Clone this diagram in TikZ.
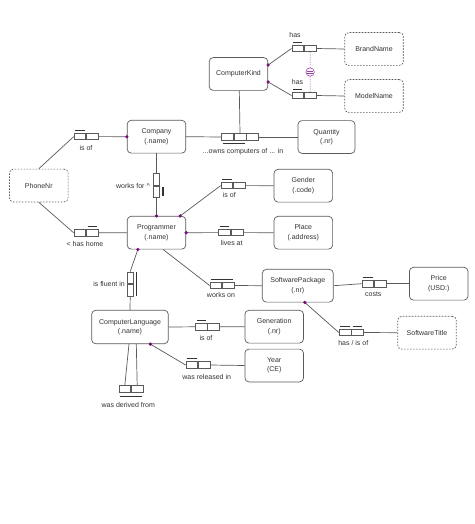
\documentclass[tikz,border=0pt]{standalone}
\usepackage{fontspec}
\setmainfont{Liberation Sans}
\usetikzlibrary{calc}
\definecolor{linecol}{HTML}{5A5A5A}
\definecolor{txtcol}{HTML}{333333}
\definecolor{dotcol}{HTML}{7A0A7A}
\definecolor{conscol}{HTML}{A040B0}
\begin{document}
\begin{tikzpicture}[x=1pt,y=-1pt, font=\fontsize{7}{9.3}\selectfont,
  entity/.style={draw=linecol, line width=0.7pt, rounded corners=4pt, minimum width=58.6pt, minimum height=32.8pt, align=center, inner sep=1pt, text=txtcol},
  valtype/.style={entity, dash pattern=on 1.6pt off 1.4pt},
  role/.style={draw=linecol, line width=0.7pt, minimum width=11.7pt, minimum height=6.4pt, inner sep=0pt},
  vrole/.style={role, minimum width=6.4pt, minimum height=11.7pt},
  conn/.style={draw=linecol, line width=0.7pt},
  ubar/.style={draw=txtcol, line width=1.1pt},
  lbl/.style={inner sep=0pt, text=txtcol},
  cons/.style={draw=conscol, line width=0.6pt, dash pattern=on 1.2pt off 1.2pt}]
\useasboundingbox (0,0) rectangle (474,524);
\fill[white] (0,0) rectangle (474,524);

% entity and value types
\node[entity] (ck) at (238.5,74) {ComputerKind};
\node[valtype] (brand) at (374,49) {BrandName};
\node[valtype] (model) at (374,96) {ModelName};
\node[entity] (comp) at (156.5,136.7) {Company\\(.name)};
\node[entity, minimum width=57pt] (qty) at (326.5,137) {Quantity\\(.nr)};
\node[valtype] (phone) at (38.8,185.5) {PhoneNr};
\node[entity] (prog) at (156.5,232.7) {Programmer\\(.name)};
\node[entity] (gender) at (303.3,185.7) {Gender\\(.code)};
\node[entity] (place) at (303.3,232.7) {Place\\(.address)};
\node[entity, minimum width=76.6pt, minimum height=33.5pt] (cl) at (130,327) {ComputerLanguage\\(.name)};
\node[entity, minimum width=71pt] (sp) at (297.8,285.7) {SoftwarePackage\\(.nr)};
\node[entity] (price) at (438.7,283.7) {Price\\(USD:)};
\node[valtype] (stitle) at (427,332.7) {SoftwareTitle};
\node[entity] (gen) at (274.2,326.7) {Generation\\(.nr)};
\node[entity] (year) at (274.2,365.5) {Year\\(CE)};

% fact types (role cells)
\node[role] (hb1) at (297.7,48.5) {};
\node[role, anchor=west] (hb2) at (hb1.east) {};
\node[role] (hm1) at (297.7,95.5) {};
\node[role, anchor=west] (hm2) at (hm1.east) {};
\node[role] (t1) at (227.6,137) {};
\node[role, anchor=west] (t2) at (t1.east) {};
\node[role, anchor=west] (t3) at (t2.east) {};
\node[role] (ip1) at (79.9,136.6) {};
\node[role, anchor=west] (ip2) at (ip1.east) {};
\node[vrole] (wf1) at (156.5,179.3) {};
\node[vrole, anchor=north] (wf2) at (wf1.south) {};
\node[role] (hh1) at (79.9,232.8) {};
\node[role, anchor=west] (hh2) at (hh1.east) {};
\node[role] (ig1) at (226.9,185.6) {};
\node[role, anchor=west] (ig2) at (ig1.east) {};
\node[role] (la1) at (224.6,232.6) {};
\node[role, anchor=west] (la2) at (la1.east) {};
\node[vrole] (fl1) at (130.2,277.8) {};
\node[vrole, anchor=north] (fl2) at (fl1.south) {};
\node[role] (wo1) at (215.8,285.5) {};
\node[role, anchor=west] (wo2) at (wo1.east) {};
\node[role] (co1) at (367.9,283.7) {};
\node[role, anchor=west] (co2) at (co1.east) {};
\node[role] (hi1) at (345,332.5) {};
\node[role, anchor=west] (hi2) at (hi1.east) {};
\node[role] (ie1) at (201.2,326.8) {};
\node[role, anchor=west] (ie2) at (ie1.east) {};
\node[role] (rl1) at (191.8,365) {};
\node[role, anchor=west] (rl2) at (rl1.east) {};
\node[role] (dv1) at (124.8,389) {};
\node[role, anchor=west] (dv2) at (dv1.east) {};

% attachment points
\coordinate (ckd1) at ($(ck.east)+(0,-9)$);
\coordinate (ckd2) at ($(ck.east)+(0,8)$);
\coordinate (ckS) at ($(ck.south)+(0.8,0)$);
\coordinate (progTR) at ($(prog.north east)+(-6,0)$);
\coordinate (progBL) at ($(prog.south west)+(11,0)$);
\coordinate (progB2) at ($(prog.south west)+(36.2,0)$);
\coordinate (spd) at ($(sp.south)+(7,0)$);
\coordinate (cld) at ($(cl.south east)+(-18.3,0)$);
\coordinate (cld1) at ($(cl.south)+(-1,0)$);
\coordinate (cld2) at ($(cl.south)+(6.3,0)$);

% connectors
\draw[conn] (ckd1) -- (hb1.west);
\draw[conn] (hb2.east) -- (brand.west);
\draw[conn] (ckd2) -- (hm1.west);
\draw[conn] (hm2.east) -- (model.west);
\draw[conn] (ckS) -- (t2.north);
\draw[conn] (comp.east) -- (t1.west);
\draw[conn] (t3.east) -- (qty.west);
\draw[conn] (phone.north) -- (ip1.west);
\draw[conn] (ip2.east) -- (comp.west);
\draw[conn] (comp.south) -- (wf1.north);
\draw[conn] (wf2.south) -- (prog.north);
\draw[conn] (phone.south) -- (hh1.west);
\draw[conn] (hh2.east) -- (prog.west);
\draw[conn] (progTR) -- (ig1.west);
\draw[conn] (ig2.east) -- (gender.west);
\draw[conn] (prog.east) -- (la1.west);
\draw[conn] (la2.east) -- (place.west);
\draw[conn] (progBL) -- (fl1.north);
\draw[conn] (fl2.south) -- (cl.north);
\draw[conn] (progB2) -- (wo1.west);
\draw[conn] (wo2.east) -- (sp.west);
\draw[conn] (sp.east) -- (co1.west);
\draw[conn] (co2.east) -- (price.west);
\draw[conn] (spd) -- (hi1.west);
\draw[conn] (hi2.east) -- (stitle.west);
\draw[conn] (cl.east) -- (ie1.west);
\draw[conn] (ie2.east) -- (gen.west);
\draw[conn] (cld) -- (rl1.west);
\draw[conn] (rl2.east) -- (year.west);
\draw[conn] (cld1) -- (dv1.north);
\draw[conn] (cld2) -- (dv2.north);

% uniqueness bars
\draw[ubar] ($(hb1.north west)+(1.5,-2.7)$) -- ($(hb1.north east)+(-1.5,-2.7)$);
\draw[ubar] ($(hm1.north west)+(1.5,-2.7)$) -- ($(hm1.north east)+(-1.5,-2.7)$);
\draw[ubar] ($(t1.south west)+(1.5,2.5)$) -- ($(t2.south east)+(-1.5,2.5)$);
\draw[ubar] ($(ip1.north west)+(1.5,-2.7)$) -- ($(ip1.north east)+(-1.5,-2.7)$);
\draw[ubar] ($(wf2.north east)+(2.9,1.5)$) -- ($(wf2.south east)+(2.9,-1.5)$);
\draw[ubar] ($(hh2.north west)+(1.5,-2.7)$) -- ($(hh2.north east)+(-1.5,-2.7)$);
\draw[ubar] ($(ig1.north west)+(1.5,-2.7)$) -- ($(ig1.north east)+(-1.5,-2.7)$);
\draw[ubar] ($(la1.north west)+(1.5,-2.7)$) -- ($(la1.north east)+(-1.5,-2.7)$);
\draw[ubar] ($(fl1.north east)+(2.6,0.5)$) -- ($(fl2.south east)+(2.6,-0.5)$);
\draw[ubar] ($(wo1.north west)+(1,-2.7)$) -- ($(wo2.north east)+(-1,-2.7)$);
\draw[ubar] ($(co1.north west)+(1.5,-2.7)$) -- ($(co1.north east)+(-1.5,-2.7)$);
\draw[ubar] ($(hi1.north west)+(1.5,-2.7)$) -- ($(hi1.north east)+(-1.5,-2.7)$);
\draw[ubar] ($(hi2.north west)+(1.5,-2.7)$) -- ($(hi2.north east)+(-1.5,-2.7)$);
\draw[ubar] ($(ie1.north west)+(1.5,-2.7)$) -- ($(ie1.north east)+(-1.5,-2.7)$);
\draw[ubar] ($(rl1.north west)+(1.5,-2.7)$) -- ($(rl1.north east)+(-1.5,-2.7)$);
\draw[ubar] ($(dv1.south west)+(1,3.5)$) -- ($(dv2.south east)+(-1,3.5)$);

% external uniqueness constraint
\node[circle, draw=conscol, line width=0.6pt, minimum size=8.4pt, inner sep=0pt] (euc) at ($(hb2.south)!0.5!(hm2.north)$) {};
\draw[conscol, line width=0.5pt] ($(euc.center)+(-3,-0.9)$) -- ($(euc.center)+(3,-0.9)$);
\draw[conscol, line width=0.5pt] ($(euc.center)+(-3,0.9)$) -- ($(euc.center)+(3,0.9)$);
\draw[cons] (hb2.south) -- (euc.north);
\draw[cons] (euc.south) -- (hm2.north);

% mandatory dots
\foreach \p in {ckd1,ckd2,comp.west,prog.north,progTR,prog.east,progBL,spd,cld}
  \fill[dotcol] (\p) circle[radius=1.8pt];

% labels
\node[lbl] (lhb) at (295,35) {has};
\node[lbl] (lhm) at (297.5,82) {has};
\node[lbl] (lt) at (243,152) {...owns computers of ... in};
\node[lbl] (lip) at (86,147.7) {is of};
\node[lbl, anchor=east] (lwf) at (150,185.5) {works for \textasciicircum};
\node[lbl] (lhh) at (85,243.5) {< has home};
\node[lbl] (lig) at (229.3,195) {is of};
\node[lbl] (lla) at (231.7,243.3) {lives at};
\node[lbl, anchor=east] (lfl) at (125,283.5) {is fluent in};
\node[lbl] (lwo) at (221,294.5) {works on};
\node[lbl] (lco) at (373.3,294.5) {costs};
\node[lbl] (lhi) at (353.3,343) {has / is of};
\node[lbl] (lie) at (206,337.7) {is of};
\node[lbl] (lrl) at (206.7,376.7) {was released in};
\node[lbl] (ldv) at (128.3,405) {was derived from};
\end{tikzpicture}
\end{document}
